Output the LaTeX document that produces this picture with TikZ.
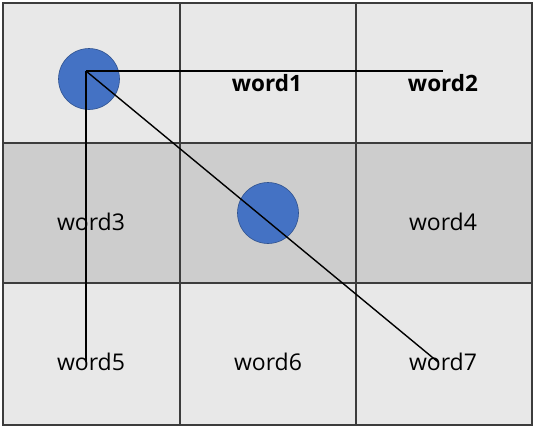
\documentclass[tikz,border=0pt]{standalone}
\usepackage{fontspec}
\setmainfont{Open Sans}
\definecolor{cellgray}{RGB}{232,232,232}
\definecolor{midgray}{RGB}{205,205,205}
\definecolor{dotblue}{RGB}{68,114,196}
\definecolor{dotedge}{RGB}{47,82,143}
\definecolor{gridline}{RGB}{60,60,60}

\begin{document}
\begin{tikzpicture}[x=1pt,y=-1pt,
  cell/.style={draw=gridline, line width=1.4pt},
  word/.style={font=\fontsize{23}{27}\selectfont, inner sep=0pt},
  bword/.style={word, font=\fontsize{22.5}{27}\selectfont\bfseries},
  dot/.style={draw=dotedge, fill=dotblue, circle, minimum size=61pt, inner sep=0pt, line width=0.6pt},
  link/.style={line width=1.4pt, black}]
\useasboundingbox (0,0) rectangle (534,428);

\fill[cellgray] (3,3) rectangle (532,425);
\fill[midgray] (3,143) rectangle (532,283);
\draw[cell] (180,3) -- (180,425);
\draw[cell] (356,3) -- (356,425);
\draw[cell] (3,143) -- (532,143);
\draw[cell] (3,283) -- (532,283);
\draw[cell] (3,3) rectangle (532,425);

\node[bword](W1) at (267,83) {word1};
\node[bword](W2) at (443,83) {word2};
\node[word](W3) at (91,222) {word3};
\node[word](W4) at (443,222) {word4};
\node[word](W5) at (91,362) {word5};
\node[word](W6) at (268,362) {word6};
\node[word](W7) at (443,362) {word7};

\node[dot](D1) at (89,79) {};
\node[dot](D2) at (268,213) {};

\coordinate (H) at (86,71);
\coordinate (E2) at (443,71);
\coordinate (E5) at (86,362);
\coordinate (E7) at (438,362);

\draw[link](H) to (E2);
\draw[link](H) to (E5);
\draw[link](H) to (E7);

\end{tikzpicture}
\end{document}
